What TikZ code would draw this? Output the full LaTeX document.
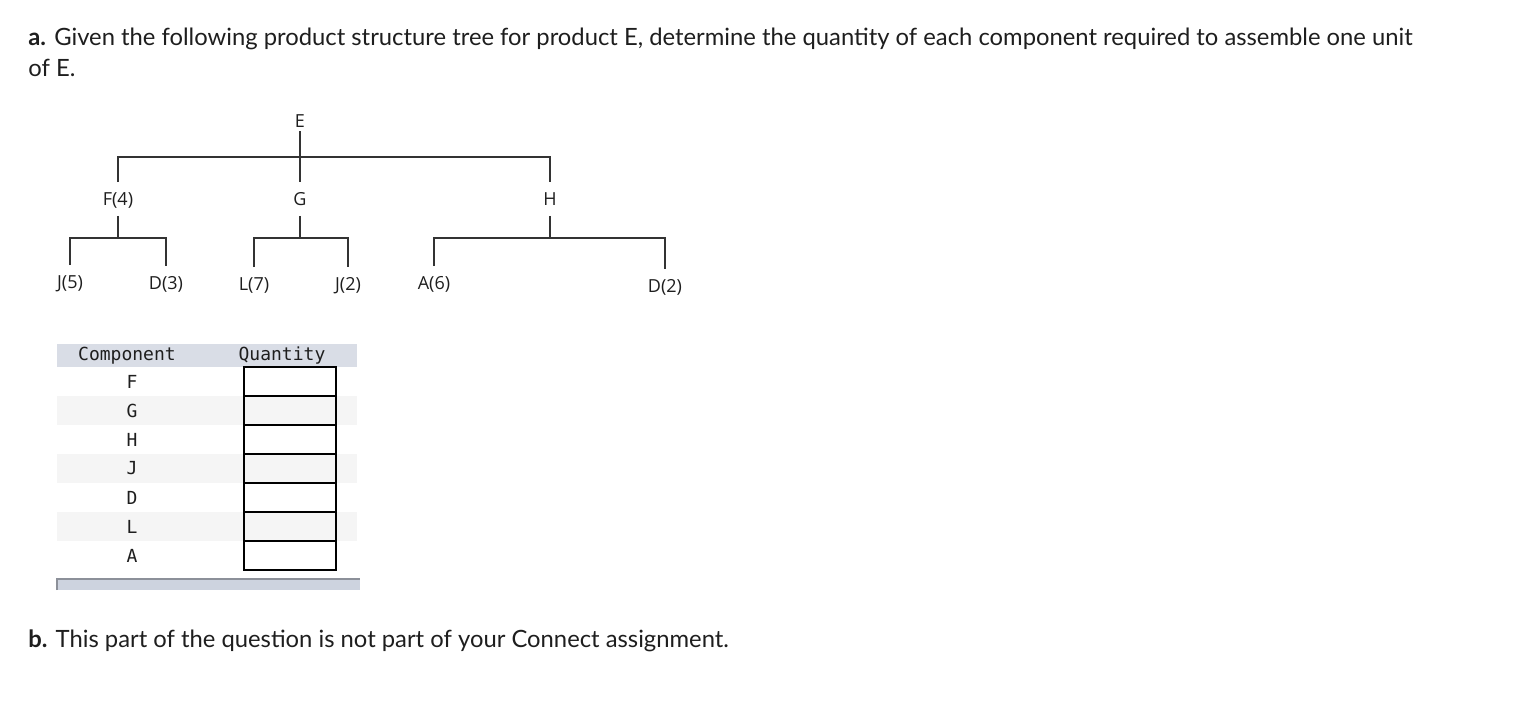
\documentclass[tikz,border=0pt]{standalone}
\usepackage{fontspec}
\setmainfont{Lato}
\setmonofont{DejaVu Sans Mono}
\newfontfamily\treefont{Open Sans}
\definecolor{inkgray}{HTML}{1E1E1E}
\definecolor{linegray}{HTML}{333333}
\definecolor{headgray}{HTML}{D9DDE6}
\definecolor{rowgray}{HTML}{F5F5F5}
\definecolor{bargray}{HTML}{CDD3DF}
\definecolor{baredge}{HTML}{8C9099}

\begin{document}
\begin{tikzpicture}
[x=0.5pt, y=-0.5pt,
  textdecorate/.style={anchor=base west, inner sep=0pt, text=inkgray,
    font=\fontsize{11.9}{14}\selectfont},
  treedecorate/.style={inner sep=5pt, text height=6.5pt, text depth=0pt,
    text=inkgray, font=\treefont\fontsize{9}{10}\selectfont},
  linedecorate/.style={-, line width=0.7pt, draw=linegray},
  compdecorate/.style={text=inkgray, font=\ttfamily\fontsize{9}{10}\selectfont},
  boxdecorate/.style={draw, line width=0.55pt, minimum width=46pt,
    minimum height=14.5pt, inner sep=0pt}]
\useasboundingbox (0,0) rectangle (1523,712);
%% question texts
\node (parta) [textdecorate] at (28,46) {\textbf{a.} Given the following
  product structure tree for product E, determine the quantity of each
  component required to assemble one unit};
\node (partaend) [textdecorate] at (28,76) {of E.};
\node (partb) [textdecorate] at (28,647) {\textbf{b.} This part of the
  question is not part of your Connect assignment.};
%% nodes of the tree
\foreach \nodename/\x/\y/\nodetext in {F/118/199/F(4), G/300/199/G,
  H/550/199/H, J5/70/282/J(5), D3/166/283/D(3), L7/254/284/L(7),
  J2/348/284/J(2), A6/434/283/A(6), D2/665/286/D(2)}
{
  \node (\nodename) at (\x,\y) [treedecorate] {\nodetext};
}
\node (E) at (300,121) [treedecorate, inner sep=1.75pt] {E};
%% lines of the tree
\coordinate (Ebar) at (300,157);
\draw[linedecorate] (E) -- (G);
\draw[linedecorate] (F) |- (Ebar) -| (H);
\foreach \parent/\x/\leftnode/\rightnode in {F/118/J5/D3, G/300/L7/J2,
  H/550/A6/D2}
{
  \coordinate (\parent bar) at (\x,238);
  \draw[linedecorate] (\parent) -- (\parent bar);
  \draw[linedecorate] (\leftnode) |- (\parent bar) -| (\rightnode);
}
%% table
\fill[headgray] (57,344) rectangle (357,367);
\foreach \y in {396,454,512}
{
  \fill[rowgray] (57,\y) rectangle (357,\y+29);
}
\node (comphead) at (127,356) [compdecorate] {Component};
\node (qtyhead) at (282,356) [compdecorate] {Quantity};
\foreach \nodename/\i in {F/0, G/1, H/2, J/3, D/4, L/5, A/6}
{
  \node (name\nodename) at (132,381.5+29*\i) [compdecorate] {\nodename};
  \node (box\nodename) at (290,381.5+29*\i) [boxdecorate] {};
}
\fill[bargray] (57,579) rectangle (360,590);
\draw[baredge, line width=0.6pt] (57,590) -- (57,579) -- (360,579);
\end{tikzpicture}
\end{document}
